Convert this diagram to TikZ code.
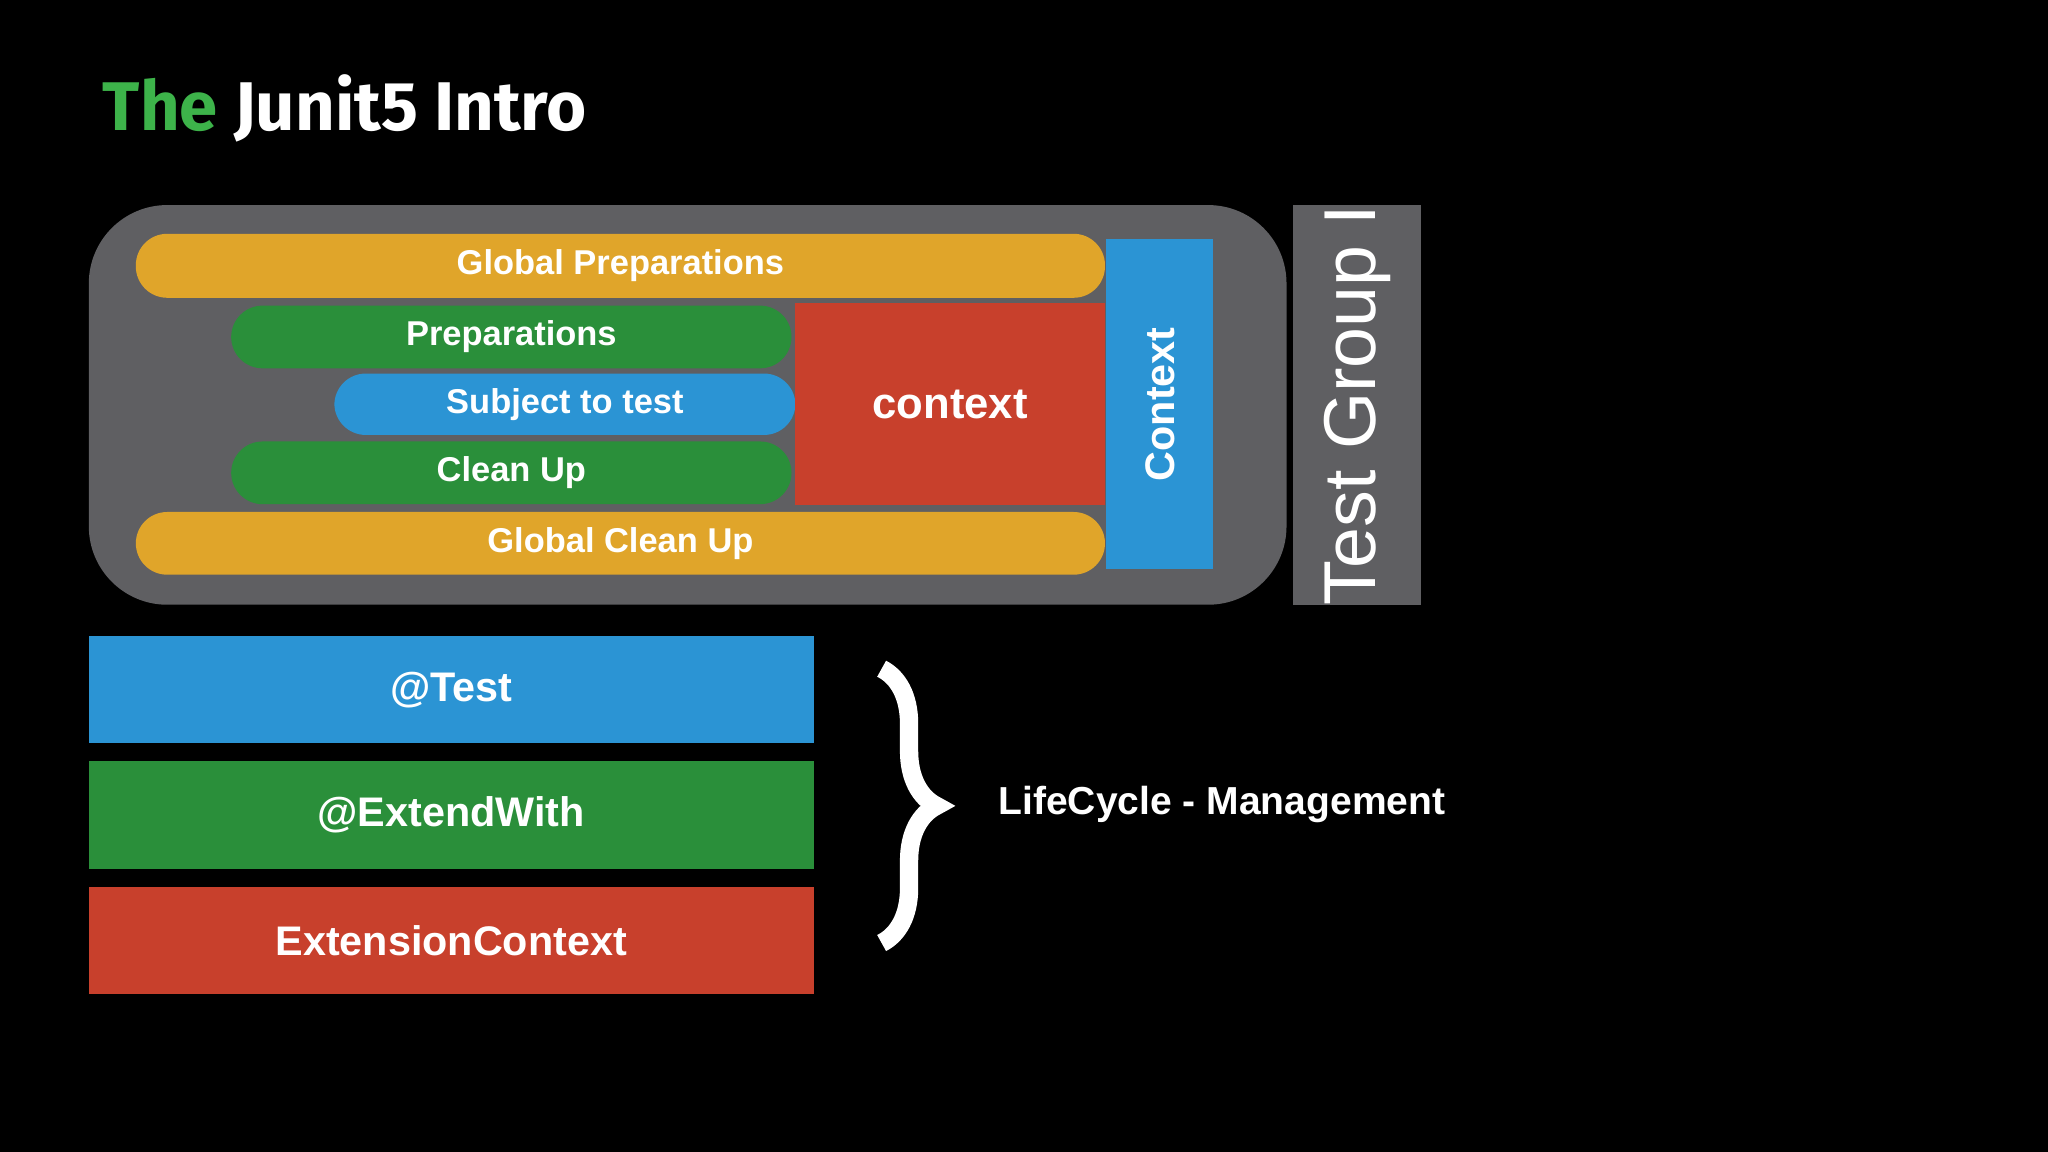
\documentclass[tikz,border=0pt]{standalone}
\usepackage{fontspec}
\setmainfont{Liberation Sans}
\newfontfamily\titlefont{Fira Sans}
\usetikzlibrary{positioning,decorations.pathreplacing}
\definecolor{bgray}{HTML}{5F5F62}
\definecolor{jyellow}{HTML}{E0A52A}
\definecolor{jgreen}{HTML}{2A8F3A}
\definecolor{jblue}{HTML}{2B94D4}
\definecolor{jred}{HTML}{C8402C}
\definecolor{tgreen}{HTML}{3DB34A}
\tikzset{
  pill/.style={rounded corners=0.24cm,inner sep=0pt,text=white,font=\bfseries\fontsize{7.5}{9}\selectfont},
  block/.style={inner sep=0pt,text=white,font=\bfseries\fontsize{9}{11}\selectfont}
}
\begin{document}
\begin{tikzpicture}[x=0.01cm,y=-0.01cm]
  \fill[black] (0,0) rectangle (1568,882);
  \node (title) [anchor=base west,inner sep=0pt,font=\titlefont\bfseries\fontsize{15}{18}\selectfont] at (78,100)
    {\textcolor{tgreen}{The} \textcolor{white}{Junit5 Intro}};
  % test group box
  \fill[bgray,rounded corners=0.6cm] (68,157) rectangle (985,463);
  \path[fill=jyellow,pill] (104,179) rectangle (846,228) node[midway] (gprep) {Global Preparations};
  \path[fill=jgreen,pill] (177,234) rectangle (606,282) node[midway] (prep) {Preparations};
  \path[fill=jblue,pill] (256,286) rectangle (609,333) node[midway] (subj) {Subject to test};
  \path[fill=jgreen,pill] (177,338) rectangle (606,386) node[midway] (clean) {Clean Up};
  \path[fill=jyellow,pill] (104,392) rectangle (846,440) node[midway] (gclean) {Global Clean Up};
  \path[fill=jred,block] (609,232) rectangle (846,387) node[midway,font=\bfseries\fontsize{9.5}{11}\selectfont] (ctx) {context};
  \path[fill=jblue,block] (847,183) rectangle (929,436) node[midway,rotate=90] (Ctx) {Context};
  \path[fill=bgray] (990,157) rectangle (1088,463) node[midway,rotate=90,text=white,font=\fontsize{16}{18}\selectfont] (group) {Test Group I};
  % annotations
  \path[fill=jblue,block] (68,487) rectangle (623,569) node[midway] (test) {@Test};
  \path[fill=jgreen,block] (68,583) rectangle (623,665) node[midway] (ext) {@ExtendWith};
  \path[fill=jred,block] (68,679) rectangle (623,761) node[midway] (extctx) {ExtensionContext};
  \coordinate (btop) at (675,512);
  \coordinate (bbot) at (675,722);
  \draw[white,line width=0.14cm,decorate,decoration={brace,amplitude=0.42cm}] (btop) -- (bbot);
  \node (life) [anchor=west,text=white,font=\bfseries\fontsize{8.5}{10}\selectfont] at (752,616) {LifeCycle - Management};
\end{tikzpicture}
\end{document}
